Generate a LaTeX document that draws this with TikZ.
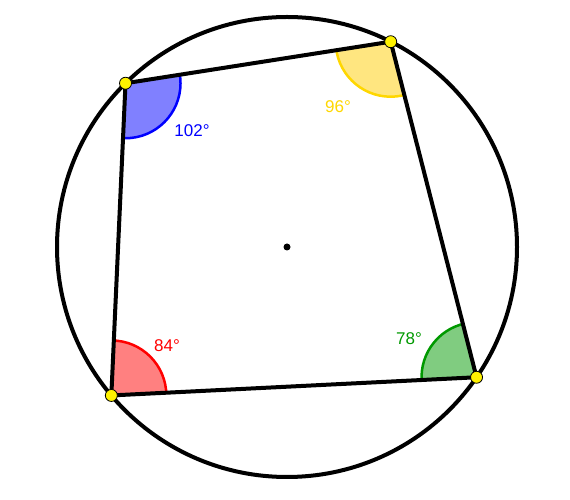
\documentclass[tikz,border=0pt]{standalone}
\usepackage{fontspec}
\setmainfont{Liberation Sans}
\usetikzlibrary{calc}
\definecolor{blueline}{HTML}{0000FF}
\definecolor{bluefill}{HTML}{8080FF}
\definecolor{goldline}{HTML}{FFD700}
\definecolor{goldfill}{HTML}{FFE680}
\definecolor{greenline}{HTML}{009900}
\definecolor{greenfill}{HTML}{80CC80}
\definecolor{redline}{HTML}{FF0000}
\definecolor{redfill}{HTML}{FF8080}
\begin{document}
\begin{tikzpicture}[x=1pt, y=1pt,
  edge/.style={line width=4pt, line join=round},
  vertex/.style={circle, draw=black, line width=0.8pt, fill=yellow,
    inner sep=0pt, minimum size=12pt},
  lbl/.style={font=\fontsize{17}{20}\selectfont, inner sep=0pt}
  ]
  \useasboundingbox (0,0) rectangle (570,500);
  \coordinate (O) at (287,253);
  \coordinate (A) at ($(O)+(134.6:230)$);
  \coordinate (B) at ($(O)+(63.2:230)$);
  \coordinate (C) at ($(O)+(-34.5:230)$);
  \coordinate (D) at ($(O)+(220.2:230)$);
  % angle sectors
  \foreach \v/\c in {A/blue, B/gold, C/green, D/red} {
    \begin{scope}
      \clip (A) -- (B) -- (C) -- (D) -- cycle;
      \fill[\c fill] (\v) circle (55);
      \draw[\c line, line width=2.5pt] (\v) circle (55);
    \end{scope}
  }
  \draw[line width=4pt] (O) circle (230);
  \draw[edge] (A) -- (B) -- (C) -- (D) -- cycle;
  \fill (O) circle (3.5);
  \foreach \v in {A,B,C,D}
    \node[vertex] (p\v) at (\v) {};
  % labels
  \node[lbl, text=blueline] (lA) at (192,369) {102°};
  \node[lbl, text=goldline] (lB) at (338,393) {96°};
  \node[lbl, text=greenline] (lC) at (409,161) {78°};
  \node[lbl, text=redline] (lD) at (167,154) {84°};
\end{tikzpicture}
\end{document}
